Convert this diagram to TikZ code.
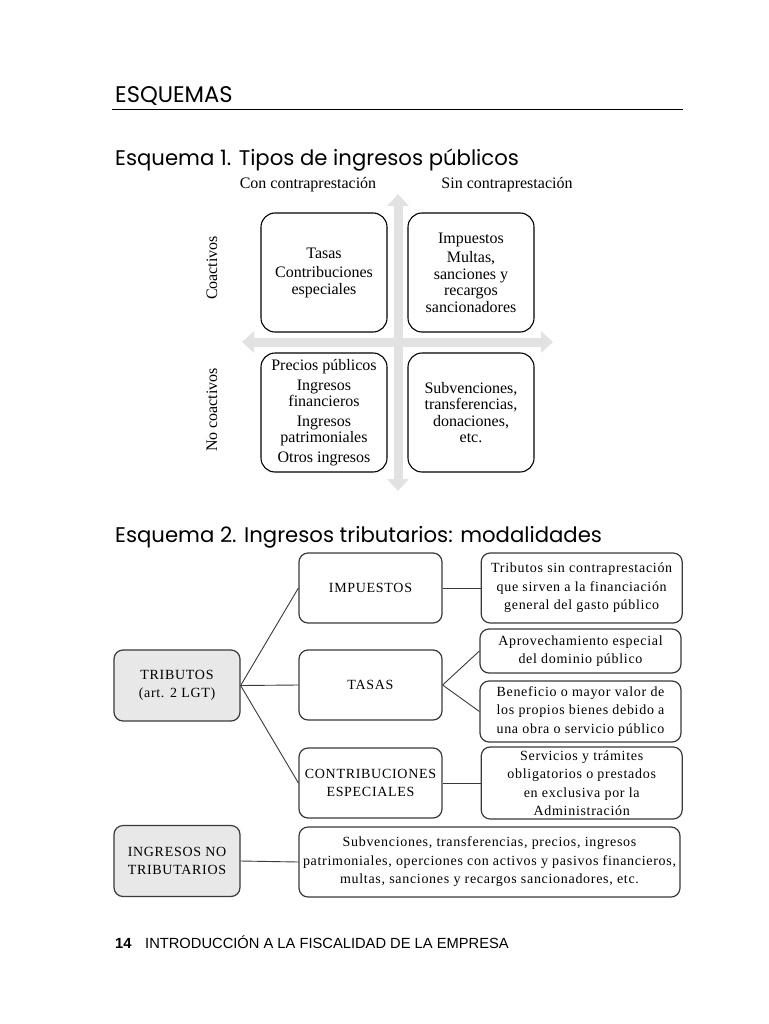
\documentclass[tikz,border=0pt]{standalone}
\usepackage{fontspec}
\setmainfont{Liberation Serif}
\newfontfamily\titlefont{Poppins}
\newfontfamily\footfont{Liberation Sans}
\newfontfamily\boxfont[LetterSpace=5]{Liberation Serif}
\usetikzlibrary{arrows.meta,positioning}
\definecolor{axisgray}{HTML}{E2E2E2}
\definecolor{boxline}{HTML}{3A3A3A}
\definecolor{boxfill}{HTML}{E8E8E8}

\begin{document}
\begin{tikzpicture}[x=1pt,y=-1pt,node distance=38pt,
 title/.style={anchor=base west,inner sep=0pt,font=\titlefont\fontsize{21.2}{24}\selectfont},
 quad/.style={draw,rounded corners=14pt,line width=1.1pt,minimum width=126pt,minimum height=119pt,inner sep=0pt,align=center,font=\fontsize{16}{16.5}\selectfont},
 axis/.style={line width=9pt,draw=axisgray,{Triangle[width=21pt,length=12pt]}-{Triangle[width=21pt,length=12pt]}},
 card/.style={draw=boxline,line width=1.2pt,rounded corners=9pt,inner sep=0pt,align=center,font=\boxfont\fontsize{14}{18.5}\selectfont},
 grey/.style={card,fill=boxfill},
 link/.style={draw=boxline,line width=0.9pt}]
 \useasboundingbox[fill=white] (0,0) rectangle (768,1024);
 % headings
 \node[title,font=\titlefont\fontsize{22.6}{24}\selectfont] (esquemas) at (115,103) {ESQUEMAS};
 \draw[line width=1pt] (112,110) -- (683,110);
 \node[title] (title1) at (115,166) {Esquema 1. Tipos de ingresos públicos};
 % esquema 1
 \node[font=\fontsize{16}{18}\selectfont] (con) at (308,185) {Con contraprestación};
 \node[font=\fontsize{16}{18}\selectfont] (sin) at (507,185) {Sin contraprestación};
 \node[rotate=90,font=\fontsize{16}{18}\selectfont] (coact) at (212,268) {Coactivos};
 \node[rotate=90,font=\fontsize{16}{18}\selectfont] (nocoact) at (212,410) {No coactivos};
 \coordinate (vtop) at (398,194);
 \coordinate (vbot) at (398,491);
 \coordinate (hleft) at (242,342);
 \coordinate (hright) at (553,342);
 \draw[axis] (vtop) -- (vbot);
 \draw[axis] (hleft) -- (hright);
 \node[quad] (tl) at (324,272.5) {Tasas\\[3pt]Contribuciones\\especiales};
 \node[quad] (tr) at (471,272.5) {Impuestos\\[3pt]Multas,\\sanciones y\\recargos\\sancionadores};
 \node[quad] (bl) at (324,412.5) {Precios públicos\\[3pt]Ingresos\\financieros\\[3pt]Ingresos\\patrimoniales\\[3pt]Otros ingresos};
 \node[quad] (br) at (471,412.5) {Subvenciones,\\transferencias,\\donaciones,\\etc.};
 % esquema 2
 \node[title] (title2) at (115,542) {Esquema 2. Ingresos tributarios: modalidades};
 \node[grey,minimum width=126pt,minimum height=71pt] (tributos) at (177,685.5) {TRIBUTOS\\(art. 2 LGT)};
 \node[card,minimum width=143pt,minimum height=70pt] (impuestos) at (370.5,588) {IMPUESTOS};
 \node[card,minimum width=143pt,minimum height=70pt] (tasas) at (370.5,685) {TASAS};
 \node[card,minimum width=143pt,minimum height=70pt] (contrib) at (370.5,783) {CONTRIBUCIONES\\ESPECIALES};
 \node[card,minimum width=201pt,minimum height=70pt,right=of impuestos] (sincontra) {Tributos sin contraprestación\\que sirven a la financiación\\general del gasto público};
 \node[card,minimum width=201pt,minimum height=44pt] (aprov) at (580.5,651) {Aprovechamiento especial\\del dominio público};
 \node[card,minimum width=201pt,minimum height=61pt] (benef) at (580.5,711.5) {Beneficio o mayor valor de\\los propios bienes debido a\\una obra o servicio público};
 \node[card,minimum width=201pt,minimum height=72pt,right=of contrib] (servicios) {Servicios y trámites\\obligatorios o prestados\\en exclusiva por la\\Administración};
 \node[grey,minimum width=126pt,minimum height=71pt] (notrib) at (177,861) {INGRESOS NO\\TRIBUTARIOS};
 \node[card,minimum width=381pt,minimum height=70pt] (subv) at (489.5,862) {Subvenciones, transferencias, precios, ingresos\\patrimoniales, operciones con activos y pasivos financieros,\\multas, sanciones y recargos sancionadores, etc.};
 \draw[link] (tributos.east) -- (impuestos.west);
 \draw[link] (tributos.east) -- (tasas.west);
 \draw[link] (tributos.east) -- (contrib.west);
 \draw[link] (impuestos) -- (sincontra);
 \draw[link] (tasas.east) -- (aprov.west);
 \draw[link] (tasas.east) -- (benef.west);
 \draw[link] (contrib) -- (servicios);
 \draw[link] (notrib.east) -- (subv.west);
 % footer
 \node[anchor=base west,inner sep=0pt,font=\footfont\bfseries\fontsize{14.7}{16}\selectfont] (pagenum) at (115,948) {14};
 \node[anchor=base west,inner sep=0pt,font=\footfont\fontsize{14.7}{16}\selectfont] (running) at (145,948) {INTRODUCCIÓN A LA FISCALIDAD DE LA EMPRESA};
\end{tikzpicture}
\end{document}
